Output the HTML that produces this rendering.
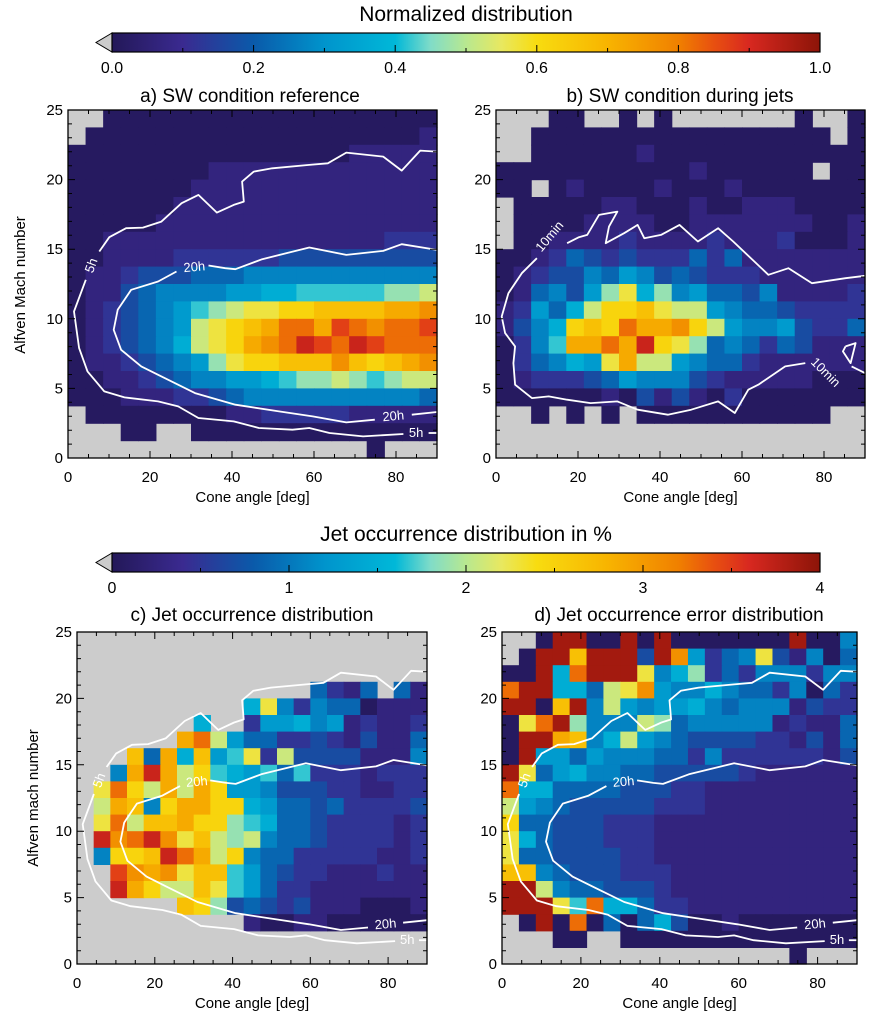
<!DOCTYPE html>
<html><head><meta charset="utf-8">
<style>
html,body{margin:0;padding:0;background:#fff;}
svg{display:block;font-family:"Liberation Sans",sans-serif;}
</style></head>
<body>
<svg id="s" width="877" height="1024" viewBox="0 0 877 1024" xmlns="http://www.w3.org/2000/svg">
<defs>
<linearGradient id="cm" x1="0" x2="1" y1="0" y2="0">
<stop offset="0" stop-color="#231858"/>
<stop offset="0.1" stop-color="#3a2a90"/>
<stop offset="0.2" stop-color="#0a5aaa"/>
<stop offset="0.3" stop-color="#0094cc"/>
<stop offset="0.4" stop-color="#00b8d8"/>
<stop offset="0.45" stop-color="#80dcc8"/>
<stop offset="0.5" stop-color="#b8e890"/>
<stop offset="0.55" stop-color="#e8e860"/>
<stop offset="0.6" stop-color="#f8dc10"/>
<stop offset="0.7" stop-color="#f8b400"/>
<stop offset="0.8" stop-color="#f08000"/>
<stop offset="0.85" stop-color="#e85010"/>
<stop offset="0.9" stop-color="#d82820"/>
<stop offset="1" stop-color="#8c1408"/>
</linearGradient>
</defs>
</svg>
<script>
const NS="http://www.w3.org/2000/svg";
const svg=document.getElementById('s');
function el(t,a,p){const e=document.createElementNS(NS,t);for(const k in a)e.setAttribute(k,a[k]);(p||svg).appendChild(e);return e;}
function txt(x,y,s,a){const o=Object.assign({x:x,y:y,'font-size':15,fill:'#000','text-anchor':'middle'},a||{});const e=el('text',o);e.textContent=s;return e;}
const stops=[[0,[0x21,0x16,0x54]],[0.1,[0x3a,0x2a,0x90]],[0.2,[0x0a,0x5a,0xaa]],[0.3,[0x00,0x94,0xcc]],[0.4,[0x00,0xb8,0xd8]],[0.45,[0x80,0xdc,0xc8]],[0.5,[0xb8,0xe8,0x90]],[0.55,[0xe8,0xe8,0x60]],[0.6,[0xf8,0xdc,0x10]],[0.7,[0xf8,0xb4,0x00]],[0.8,[0xf0,0x80,0x00]],[0.85,[0xe8,0x50,0x10]],[0.9,[0xd8,0x28,0x20]],[1,[0x8c,0x14,0x08]]];
function cmap(v){v=Math.max(0,Math.min(1,v));for(let i=1;i<stops.length;i++){if(v<=stops[i][0]){const a=stops[i-1],b=stops[i];const t=(v-a[0])/(b[0]-a[0]);const c=a[1].map((x,j)=>Math.round(x+(b[1][j]-x)*t));return 'rgb('+c.join(',')+')';}}return 'rgb(140,20,8)';}
const CH="0123456789ABCDEFGHIJK";
function pad(s,c){while(s.length<21)s+=c;return s.slice(0,21);}
const A=["..1111111111111111111",".11111111111111111112","111111111111111122222","111111112222222222222","111111122222222222222","111111222222222222222","111112222222222222222","112222222222222222333","112222333333444444444","122344455566666666666","122456666778899999AAB","12345679ABCCDDEEEEFFG","1234567BCDEFHHFIHGHHI","1234568BCDFGHJIHJIHHH","12234567ACDDEEEGEDEFG","1122345667789AABA9ABB","111222334566666666665",".11111111223333322222","...11..11111111111111",".................1..."];
const B=["...11..1.1.......1..1","..11111111111111111.1","..1111112111111111111","111111111112111111.11","11.121111211121111111",".11111221112112221111",".11112222112222222112",".11222232222322231112","112354343335352222222","123446576454333222222","125647AC8A67554622223","23758BDDECBB765543333","2468DEDHFFGDB76674335","1369FFHFJDCA565354222","135687CFBB76553222222","123334576664322222111","111111214242131111111","..1.1.1.11111111111..",".....................","....................."];
const C=[".....................",".....................",".....................","..............5325.52","..........8C636551222",".......8..37786723223","......FHB755334324225","...E5F8E79C3B44442226","..6FJFBD9879593332333",".CHDBFBFD776444332233",".BFE6DFFDD87554533334",".CHBEEFDDA98554333323",".JGHJGCEBAB6554333323",".6DDEJHFBD65533333223","..IGFGCEE975433222322","..JFDBBEC975332222222","......EDA454342221112","..........21122111111",".....................","....................."];
const D=["..1KK11K1K1111111K116",".1KKEKKK4KG7356C42615","11K8HKKKC68A353666366","HKK885BCG766865536153","KK1EK6B76778656662433","1CHKA666BA56666623225","1KKFE68B7654444332425","1K7757666553633333324","KC5786655444443222222","H8855554443322222","B765444443332","D55444333","C85444333","C55444433","EE65444333","KKB6554443","KKKC9H88533",".1K1H151584112111111111","...11..11111111111111",".................1..."];
const P={a:{x0:68,x1:437,y0:110,y1:458,g:A},b:{x0:496,x1:865,y0:110,y1:458,g:B},c:{x0:77,x1:427,y0:632,y1:964,g:C},d:{x0:502,x1:857,y0:632,y1:964,g:D}};
function grid(p){
  const w=(p.x1-p.x0)/21,h=(p.y1-p.y0)/20;
  el('rect',{x:p.x0,y:p.y0,width:p.x1-p.x0,height:p.y1-p.y0,fill:'#cccccc'});
  p.g.forEach((r,i)=>{r=pad(r,'2');for(let j=0;j<21;j++){const c=r[j];if(c==='.')continue;const v=Math.max(0,CH.indexOf(c)/20-0.03);
    el('rect',{x:(p.x0+j*w).toFixed(2),y:(p.y0+i*h).toFixed(2),width:(w+0.6).toFixed(2),height:(h+0.6).toFixed(2),fill:cmap(v)});}});
}
function frame(p){
  const W=p.x1-p.x0,H=p.y1-p.y0;
  const fx=d=>p.x0+d/90*W, fy=m=>p.y1-m/25*H;
  let d='';
  for(let a=0;a<=90;a+=5){const L=(a%20===0)?7:4;const x=fx(a).toFixed(1);d+=`M${x} ${p.y1}v${-L}M${x} ${p.y0}v${L}`;}
  for(let m=0;m<=25;m++){const L=(m%5===0)?7:4;const y=fy(m).toFixed(1);d+=`M${p.x0} ${y}h${L}M${p.x1} ${y}h${-L}`;}
  el('path',{d:d,stroke:'#000','stroke-width':1,fill:'none'});
  el('rect',{x:p.x0,y:p.y0,width:W,height:H,fill:'none',stroke:'#000','stroke-width':1.3});
  for(let a=0;a<=80;a+=20)txt(fx(a),p.y1+24,String(a),{'font-size':15});
  for(let m=0;m<=25;m+=5)txt(p.x0-5,fy(m)+5,String(m),{'font-size':15,'text-anchor':'end'});
  txt((p.x0+p.x1)/2,p.y1+44,'Cone angle [deg]',{'font-size':15});
}
function poly(p,pts,sx0,sy0,sw,sh){
  const W=p.x1-p.x0,H=p.y1-p.y0;
  const s=pts.map(q=>[(p.x0+(q[0]-sx0)/sw*W).toFixed(1),(p.y0+(q[1]-sy0)/sh*H).toFixed(1)].join(',')).join(' ');
  el('polyline',{points:s,fill:'none',stroke:'#fff','stroke-width':1.8,'stroke-linejoin':'round'});
}
function clab(p,zx,zy,s,rot,sx0,sy0,sw,sh){
  const W=p.x1-p.x0,H=p.y1-p.y0;const x=p.x0+(zx-sx0)/sw*W,y=p.y0+(zy-sy0)/sh*H;
  txt(x,y+4,s,{'font-size':13,fill:'#fff',transform:`rotate(${rot} ${x} ${y})`});
}
const o1=[[1120,155],[1070,152],[1015,212],[960,170],[850,158],[795,190],[740,195],[630,205],[575,215],[540,245],[545,305],[515,315],[465,338],[410,285],[360,310],[300,365],[245,383],[195,385],[145,412],[115,455]];
const o2=[[75,540],[40,635],[55,745],[80,815],[130,875],[190,893],[290,905],[350,920],[410,955],[515,965],[590,985],[690,990],[740,985],[800,1000],[900,1010],[1020,1003]];
const o3=[[1095,1000],[1120,1000]];
const i1=[[1120,450],[1015,433],[960,453],[850,465],[740,443],[600,478],[520,508],[490,505],[440,497]];
const i2=[[345,515],[290,545],[210,570],[170,630],[158,690],[180,750],[240,800],[300,830],[400,880],[520,915],[650,935],[750,950],[850,968],[935,960]];
const i3=[[1045,945],[1120,937]];
function hours(p){
  [o1,o2,o3,i1,i2,i3].forEach(l=>poly(p,l,22,30,1098,1045));
  clab(p,92,497,'5h',-70,22,30,1098,1045);
  clab(p,398,502,'20h',-5,22,30,1098,1045);
  clab(p,990,950,'20h',-5,22,30,1098,1045);
  clab(p,1058,1000,'5h',0,22,30,1098,1045);
}
['a','b','c','d'].forEach(k=>grid(P[k]));
hours(P.a);hours(P.c);hours(P.d);
const b1=[[230,430],[265,412],[290,405],[325,345],[380,335],[355,380],[345,430],[400,400],[440,375],[460,415],[510,405],[565,375],[620,425],[680,385],[725,425],[830,525],[890,505],[960,550],[1060,535],[1118,528]];
const b2=[[140,475],[95,520],[55,580],[35,650],[45,700],[75,740],[70,790],[75,855],[125,895],[175,890],[230,900],[300,910],[380,905],[440,930],[530,945],[600,930],[680,905],[730,940],[770,870],[800,855],[880,800],[940,790]];
const b3=[[1060,740],[1090,730],[1075,790],[1052,755],[1060,740]];
const b4=[[1078,800],[1118,820]];
[b1,b2,b3,b4].forEach(l=>poly(P.b,l,18,30,1100,1045));
clab(P.b,178,410,'10min',-50,18,30,1100,1045);
clab(P.b,1000,818,'10min',45,18,30,1100,1045);
['a','b','c','d'].forEach(k=>frame(P[k]));
txt(25,285,'Alfven Mach number',{'font-size':15,transform:'rotate(-90 25 285)'});
txt(38,798,'Alfven mach number',{'font-size':15,transform:'rotate(-90 38 798)'});
txt(250,102,'a) SW condition reference',{'font-size':19});
txt(680,102,'b) SW condition during jets',{'font-size':19});
txt(252,621,'c) Jet occurrence distribution',{'font-size':19});
txt(679,621,'d) Jet occurrence error distribution',{'font-size':19});
function cbar(y,title,labels){
  txt(466,y-12,title,{'font-size':21});
  el('polygon',{points:`112,${y} 96,${y+9.5} 112,${y+19}`,fill:'#cccccc',stroke:'#000','stroke-width':1});
  el('rect',{x:112,y:y,width:708,height:19,fill:'url(#cm)',stroke:'#000','stroke-width':1.2});
  let d='';const n=(labels.length-1)*2;
  for(let i=0;i<=n;i++){const x=(112+708*i/n).toFixed(1);d+=`M${x} ${y+19}v${i%2?-4:-7}`;}
  el('path',{d:d,stroke:'#000','stroke-width':1});
  labels.forEach((s,i)=>txt(112+708*i/(labels.length-1),y+40,s,{'font-size':16}));
}
cbar(33,'Normalized distribution',['0.0','0.2','0.4','0.6','0.8','1.0']);
cbar(553,'Jet occurrence distribution in %',['0','1','2','3','4']);
</script>
</body></html>
